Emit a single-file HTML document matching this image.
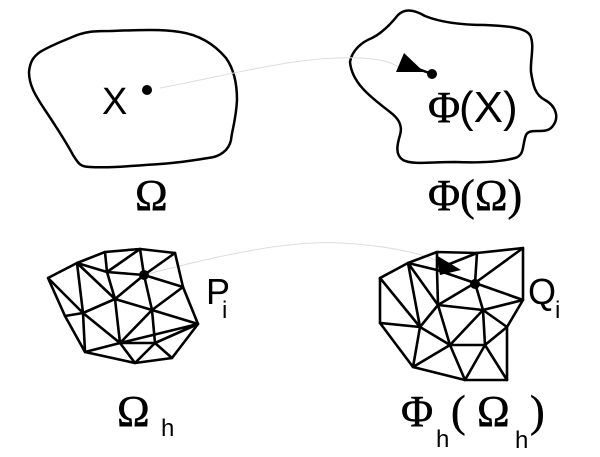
<!DOCTYPE html>
<html><head><style>html,body{margin:0;padding:0;background:#fff}svg{display:block}
.s{font-family:"Liberation Sans",Arial,sans-serif}
.r{font-family:"Liberation Serif","Times New Roman",serif}
</style></head>
<body>
<svg width="600" height="457" viewBox="0 0 600 457" xmlns="http://www.w3.org/2000/svg">
<g fill="none" stroke="#000" stroke-width="2.5" stroke-linejoin="round">
<path d="M29,72 C30,62 33,57 40,52 C50,46 60,42 70,38 C85,31 95,31 110,31 C140,30 160,29 180,32 C200,35 215,45 226,58 C236,72 237,90 237,100 C236,120 232,130 231,140 C229,150 220,157 208,158 C190,161 175,163 160,164 C130,166 110,168 90,167 C80,167 78,163 73,155 C65,140 55,125 45,110 C35,95 29,85 29,72 Z"/>
<path d="M350,62 C352,50 362,42 372,38 C382,33 390,25 398,15 C405,8 415,10 425,16 C440,22 460,25 485,25 C510,26 525,28 530,35 C535,45 530,60 531,72 C533,85 535,95 545,100 C556,106 560,118 552,127 C545,135 530,127 526,135 C522,145 525,155 515,158 C500,162 480,163 455,162 C430,162 412,165 403,160 C395,155 397,145 400,135 C403,125 398,118 390,112 C375,100 352,85 350,62 Z"/>
</g>
<path d="M160,88 C230,75 300,55 360,58 C380,59 392,62 400,68" fill="none" stroke="#ddd" stroke-width="1"/>
<path d="M144,275 C220,255 290,240 340,243 C380,245 420,252 440,262" fill="none" stroke="#ddd" stroke-width="1"/>
<circle cx="147" cy="90" r="5"/>
<circle cx="432" cy="74" r="5"/>
<line x1="432" y1="74" x2="410" y2="66" stroke="#000" stroke-width="2.5"/>
<polygon points="396,72 404,53 424,72"/>
<g stroke="#000" stroke-width="2.6" stroke-linecap="round" stroke-linejoin="round">
<path d="M48,278 L77,263 L105,252 L140,249 L175,253 L183,287 L198,324 L172,358 L135,363 L85,352 L65,316 Z" fill="none"/>
<path d="M77,263 L107,272 M105,252 L107,272 M140,249 L107,272 M107,272 L144,275 M140,249 L144,275 M175,253 L144,275 M144,275 L183,287 M77,263 L83,313 M77,263 L115,299 M107,272 L115,299 M144,275 L115,299 M144,275 L152,310 M183,287 L152,310 M152,310 L198,324 M115,299 L152,310 M115,299 L83,313 M48,278 L83,313 M65,316 L83,313 M83,313 L120,343 M115,299 L120,343 M152,310 L120,343 M152,310 L155,343 M120,343 L155,343 M155,343 L198,324 M120,343 L198,324 M155,343 L172,358 M120,343 L135,363 M155,343 L135,363 M120,343 L85,352 M83,313 L85,352"/>
<path d="M380,278 L408,263 L437,252 L477,253 L523,248 L523,300 L507,327 L507,380 L465,380 L413,367 L380,323 Z" fill="none"/>
<path d="M408,263 L437,270 M437,252 L437,270 M437,270 L475,283 M477,253 L475,283 M523,248 L475,283 M475,283 L523,300 M408,263 L420,327 M408,263 L438,305 M380,278 L420,327 M380,323 L420,327 M437,270 L438,305 M475,283 L438,305 M475,283 L483,310 M438,305 L483,310 M523,300 L483,310 M483,310 L507,327 M438,305 L420,327 M420,327 L450,345 M438,305 L450,345 M450,345 L483,310 M483,310 L485,345 M485,345 L507,327 M450,345 L485,345 M420,327 L413,367 M413,367 L450,345 M450,345 L465,380 M485,345 L465,380 M485,345 L507,380 M477,253 L447,265"/>
</g>
<circle cx="144" cy="275" r="5"/>
<circle cx="475" cy="284" r="5"/>
<polygon points="436,255 440,275 461,270"/>
<g class="s" fill="#000">
<text x="102" y="114" font-size="38">X</text>
<text x="206" y="304" font-size="36">P</text>
<text x="222" y="318" font-size="24">i</text>
<text x="528" y="304" font-size="36">Q</text>
<text x="555" y="318" font-size="24">i</text>
<text x="161" y="436" font-size="24">h</text>
<text x="436" y="447" font-size="24">h</text>
<text x="515" y="448" font-size="24">h</text>
<text x="459" y="122" font-size="44">(X)</text>
</g>
<g class="r" fill="#000" stroke="#000" stroke-width="0.5">
<text x="135" y="210" font-size="44">Ω</text>
<text x="428" y="122" font-size="44">Φ</text>
<text x="428" y="210" font-size="44">Φ(Ω)</text>
<text x="117" y="426" font-size="44">Ω</text>
<text x="401" y="426" font-size="44">Φ</text>
<text x="451" y="426" font-size="44">(</text>
<text x="477" y="426" font-size="44">Ω</text>
<text x="530" y="426" font-size="44">)</text>
</g>
</svg>
</body></html>
